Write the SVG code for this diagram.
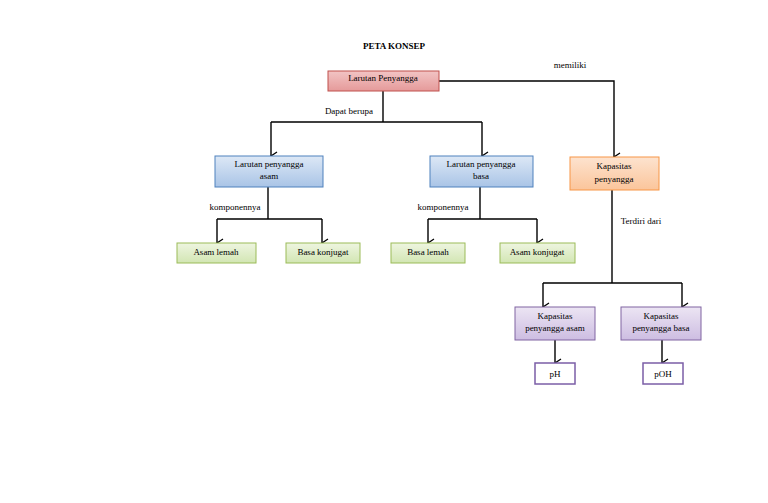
<svg xmlns="http://www.w3.org/2000/svg" width="768" height="503" viewBox="0 0 768 503">
<style>
text{font-family:"Liberation Serif",serif;font-size:9px;fill:#000;text-anchor:middle}
.l{text-anchor:start}
.c{fill:none;stroke:#000;stroke-width:1.4}
</style>
<defs>
<linearGradient id="gr" x1="0" y1="0" x2="0" y2="1"><stop offset="0" stop-color="#f2c4c4"/><stop offset="1" stop-color="#e59a9a"/></linearGradient>
<linearGradient id="gb" x1="0" y1="0" x2="0" y2="1"><stop offset="0" stop-color="#dde8f6"/><stop offset="1" stop-color="#a9c4e6"/></linearGradient>
<linearGradient id="go" x1="0" y1="0" x2="0" y2="1"><stop offset="0" stop-color="#fde3cf"/><stop offset="1" stop-color="#fbc59b"/></linearGradient>
<linearGradient id="gg" x1="0" y1="0" x2="0" y2="1"><stop offset="0" stop-color="#eef5e0"/><stop offset="1" stop-color="#d2e6b3"/></linearGradient>
<linearGradient id="gp" x1="0" y1="0" x2="0" y2="1"><stop offset="0" stop-color="#ece5f3"/><stop offset="1" stop-color="#cdbde2"/></linearGradient>
<marker id="a" markerWidth="10" markerHeight="10" refX="5" refY="7" orient="auto" markerUnits="userSpaceOnUse" viewBox="0 0 10 10"><path d="M1,1 L5,7 L9,1" fill="none" stroke="#000" stroke-width="1.3"/></marker>
</defs>
<rect width="768" height="503" fill="#fff"/>
<text x="394" y="49" style="font-weight:bold">PETA KONSEP</text>
<g id="connectors">
<path class="c" d="M439,81 H614 V157" marker-end="url(#a)"/>
<path class="c" d="M383,91 V122 M271,122 H482"/>
<path class="c" d="M271,122 V156" marker-end="url(#a)"/>
<path class="c" d="M482,122 V156" marker-end="url(#a)"/>
<path class="c" d="M268,187 V219 M217,219 H322"/>
<path class="c" d="M217,219 V243" marker-end="url(#a)"/>
<path class="c" d="M322,219 V243" marker-end="url(#a)"/>
<path class="c" d="M480,187 V219 M428,219 H537"/>
<path class="c" d="M428,219 V243" marker-end="url(#a)"/>
<path class="c" d="M537,219 V243" marker-end="url(#a)"/>
<path class="c" d="M612,190 V283 M543,283 H682"/>
<path class="c" d="M543,283 V307" marker-end="url(#a)"/>
<path class="c" d="M682,283 V307" marker-end="url(#a)"/>
<path class="c" d="M555,340 V363" marker-end="url(#a)"/>
<path class="c" d="M662,340 V363" marker-end="url(#a)"/>
<text x="570" y="68">memiliki</text>
<text x="349" y="114">Dapat berupa</text>
<text x="235" y="210">komponennya</text>
<text x="443" y="210">komponennya</text>
<text x="641" y="224">Terdiri dari</text>
</g>
<g id="n1"><rect x="328" y="71" width="111" height="20" fill="url(#gr)" stroke="#c0504d"/><text x="383" y="81">Larutan Penyangga</text></g>
<g id="n2"><rect x="215" y="156" width="108" height="31" fill="url(#gb)" stroke="#4f81bd"/><text x="269" y="167">Larutan penyangga</text><text x="269" y="179">asam</text></g>
<g id="n3"><rect x="430" y="156" width="103" height="31" fill="url(#gb)" stroke="#4f81bd"/><text x="481" y="167">Larutan penyangga</text><text x="481" y="179">basa</text></g>
<g id="n4"><rect x="570" y="157" width="89" height="33" fill="url(#go)" stroke="#f79646"/><text x="614" y="169">Kapasitas</text><text x="614" y="182">penyangga</text></g>
<g id="n5"><rect x="177" y="243" width="79" height="20" fill="url(#gg)" stroke="#9bbb59"/><text x="216" y="255">Asam lemah</text></g>
<g id="n6"><rect x="286" y="243" width="74" height="20" fill="url(#gg)" stroke="#9bbb59"/><text x="323" y="255">Basa konjugat</text></g>
<g id="n7"><rect x="391" y="243" width="74" height="20" fill="url(#gg)" stroke="#9bbb59"/><text x="428" y="255">Basa lemah</text></g>
<g id="n8"><rect x="500" y="243" width="75" height="20" fill="url(#gg)" stroke="#9bbb59"/><text x="537" y="255">Asam konjugat</text></g>
<g id="n9"><rect x="515" y="307" width="80" height="33" fill="url(#gp)" stroke="#8064a2"/><text x="555" y="319">Kapasitas</text><text x="555" y="331">penyangga asam</text></g>
<g id="n10"><rect x="621" y="307" width="80" height="33" fill="url(#gp)" stroke="#8064a2"/><text x="661" y="319">Kapasitas</text><text x="661" y="331">penyangga basa</text></g>
<g id="n11"><rect x="535" y="363" width="40" height="21" fill="#fff" stroke="#7b5ea7" stroke-width="1.5"/><text x="555" y="377">pH</text></g>
<g id="n12"><rect x="643" y="363" width="40" height="21" fill="#fff" stroke="#7b5ea7" stroke-width="1.5"/><text x="663" y="377">pOH</text></g>
</svg>
